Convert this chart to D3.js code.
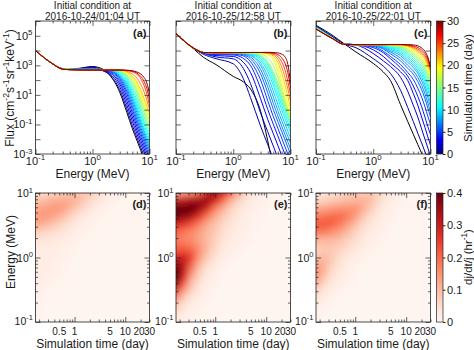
<!DOCTYPE html>
<html><head><meta charset="utf-8">
<script src="https://cdn.jsdelivr.net/npm/d3@7"></script>
<style>
body{margin:0;background:#fff}
svg{display:block}
text{font-family:"Liberation Sans",Arial,Helvetica,sans-serif;fill:#1a1a1a}
</style></head>
<body><svg id="chart" width="474" height="350"></svg>
<script>
// ---------------- DATA ----------------
const energies = [0.1,0.2,0.3,0.5,1,1.5,2,3,4,5,6,7,8,9,10];          // MeV
const simTimes = [0,1,2,3,4,5,6,7,8,9,10,11,12,13.5,15,16.5,18,19.5,21,23,25,27.5,30]; // day (0 = initial condition)
const titlesTop = ["2016-10-24/01:04 UT","2016-10-25/12:58 UT","2016-10-25/22:01 UT"];
const panelLetters = ["(a)","(b)","(c)","(d)","(e)","(f)"];

// log10 flux, one row per simulation time, one column per energy
const logFluxA = [
 [4.0,3.1,2.78,2.78,2.92,2.75,2.34,1.18,-0.18,-1.28,-2.07,-2.74,-3.32,-3.83,-4.29],
 [4.0,3.1,2.77,2.76,2.88,2.64,2.36,1.35,0.06,-1.06,-1.87,-2.54,-3.12,-3.63,-4.09],
 [4.0,3.1,2.77,2.75,2.85,2.66,2.44,1.56,0.33,-0.78,-1.62,-2.29,-2.87,-3.38,-3.84],
 [4.0,3.1,2.77,2.75,2.82,2.68,2.51,1.75,0.6,-0.5,-1.38,-2.05,-2.63,-3.14,-3.6],
 [4.0,3.1,2.76,2.74,2.8,2.7,2.57,1.9,0.85,-0.23,-1.14,-1.82,-2.4,-2.91,-3.37],
 [4.0,3.1,2.76,2.74,2.78,2.7,2.61,2.04,1.07,0.02,-0.9,-1.6,-2.18,-2.69,-3.15],
 [4.0,3.1,2.76,2.74,2.76,2.71,2.63,2.14,1.25,0.24,-0.67,-1.4,-1.98,-2.49,-2.95],
 [4.0,3.1,2.76,2.74,2.75,2.72,2.65,2.21,1.42,0.46,-0.43,-1.19,-1.78,-2.3,-2.75],
 [4.0,3.1,2.76,2.73,2.74,2.72,2.66,2.28,1.58,0.67,-0.2,-0.98,-1.59,-2.1,-2.56],
 [4.0,3.1,2.75,2.73,2.73,2.72,2.68,2.34,1.72,0.86,0.0,-0.78,-1.41,-1.92,-2.38],
 [4.0,3.1,2.75,2.73,2.73,2.72,2.69,2.4,1.86,1.05,0.2,-0.57,-1.23,-1.74,-2.2],
 [4.0,3.1,2.75,2.72,2.72,2.72,2.7,2.46,1.98,1.23,0.42,-0.34,-1.0,-1.54,-2.0],
 [4.0,3.1,2.75,2.72,2.72,2.72,2.7,2.52,2.1,1.41,0.64,-0.1,-0.78,-1.34,-1.8],
 [4.0,3.1,2.75,2.72,2.71,2.71,2.7,2.57,2.2,1.62,0.9,0.18,-0.48,-1.06,-1.54],
 [4.0,3.1,2.75,2.72,2.71,2.71,2.71,2.62,2.29,1.82,1.16,0.46,-0.18,-0.78,-1.28],
 [4.0,3.1,2.75,2.71,2.7,2.7,2.7,2.64,2.37,1.96,1.36,0.72,0.08,-0.48,-1.03],
 [4.0,3.1,2.75,2.71,2.7,2.7,2.7,2.66,2.44,2.1,1.56,0.97,0.33,-0.18,-0.78],
 [4.0,3.1,2.75,2.7,2.69,2.69,2.69,2.67,2.5,2.18,1.72,1.16,0.56,0.02,-0.54],
 [4.0,3.1,2.74,2.7,2.69,2.69,2.69,2.68,2.55,2.25,1.87,1.34,0.78,0.22,-0.3],
 [4.0,3.1,2.74,2.7,2.68,2.68,2.68,2.68,2.6,2.41,2.14,1.72,1.22,0.64,0.0],
 [4.0,3.1,2.74,2.69,2.68,2.68,2.68,2.68,2.65,2.56,2.4,2.1,1.65,1.05,0.3],
 [4.0,3.1,2.74,2.69,2.68,2.68,2.68,2.68,2.66,2.6,2.48,2.26,1.92,1.43,0.68],
 [4.0,3.1,2.74,2.69,2.68,2.68,2.68,2.68,2.67,2.63,2.55,2.42,2.18,1.8,1.05]
];
const logFluxB = [
 [5.15,4.14,3.55,3.05,2.25,1.88,1.4,-0.1,-2.1,-4.0,-5.5,-6.5,-7.5,-8.5,-9.5],
 [5.15,4.16,3.75,3.45,3.1,2.1,0.82,-1.11,-2.36,-3.33,-4.12,-4.79,-5.37,-5.88,-6.34],
 [5.15,4.17,3.82,3.57,3.44,2.79,1.77,-0.22,-1.49,-2.46,-3.25,-3.92,-4.5,-5.01,-5.47],
 [5.15,4.18,3.85,3.66,3.6,3.21,2.52,0.74,-0.65,-1.62,-2.41,-3.08,-3.66,-4.17,-4.63],
 [5.15,4.18,3.86,3.72,3.7,3.47,2.99,1.44,0.02,-0.98,-1.77,-2.44,-3.02,-3.53,-3.99],
 [5.15,4.18,3.87,3.76,3.75,3.64,3.25,2.01,0.61,-0.46,-1.25,-1.92,-2.5,-3.01,-3.47],
 [5.15,4.18,3.87,3.79,3.79,3.71,3.44,2.43,1.14,0.02,-0.79,-1.46,-2.04,-2.55,-3.01],
 [5.15,4.18,3.87,3.81,3.81,3.76,3.57,2.73,1.55,0.44,-0.42,-1.1,-1.68,-2.19,-2.65],
 [5.15,4.18,3.87,3.82,3.82,3.79,3.67,3.0,1.94,0.86,-0.05,-0.73,-1.31,-1.82,-2.28],
 [5.15,4.18,3.87,3.83,3.83,3.81,3.72,3.18,2.27,1.26,0.36,-0.37,-0.95,-1.46,-1.92],
 [5.15,4.18,3.87,3.84,3.84,3.83,3.77,3.36,2.6,1.66,0.77,0.0,-0.59,-1.1,-1.56],
 [5.15,4.18,3.87,3.85,3.85,3.85,3.8,3.46,2.81,1.94,1.07,0.3,-0.33,-0.84,-1.3],
 [5.15,4.18,3.87,3.85,3.86,3.86,3.83,3.55,3.01,2.21,1.36,0.59,-0.06,-0.58,-1.04],
 [5.15,4.18,3.87,3.85,3.86,3.86,3.84,3.61,3.14,2.4,1.59,0.84,0.17,-0.37,-0.83],
 [5.15,4.18,3.87,3.85,3.86,3.86,3.85,3.67,3.26,2.58,1.82,1.09,0.4,-0.16,-0.62],
 [5.15,4.18,3.87,3.85,3.86,3.86,3.85,3.77,3.5,3.0,2.2,1.35,0.55,-0.05,-0.53],
 [5.15,4.18,3.87,3.85,3.86,3.86,3.86,3.84,3.7,3.4,2.6,1.6,0.75,0.05,-0.42],
 [5.15,4.18,3.87,3.85,3.86,3.86,3.86,3.85,3.76,3.52,2.92,2.05,1.2,0.42,-0.15],
 [5.15,4.18,3.87,3.85,3.86,3.86,3.86,3.86,3.8,3.62,3.2,2.5,1.7,0.9,0.1],
 [5.15,4.18,3.87,3.85,3.86,3.86,3.87,3.87,3.83,3.71,3.42,2.9,2.2,1.4,0.55],
 [5.15,4.18,3.87,3.85,3.86,3.86,3.87,3.87,3.85,3.78,3.6,3.25,2.7,1.9,1.0],
 [5.15,4.18,3.87,3.85,3.86,3.87,3.87,3.87,3.87,3.83,3.73,3.52,3.15,2.5,1.45],
 [5.15,4.18,3.87,3.85,3.86,3.87,3.87,3.87,3.88,3.87,3.84,3.76,3.58,3.05,1.85]
];
const logFluxC = [
 [5.71,5.0,4.5,3.9,3.13,2.55,1.97,0.33,-0.8,-1.66,-2.36,-2.95,-3.45,-3.9,-4.3],
 [5.65,4.92,4.47,4.19,3.45,2.94,2.45,1.31,0.15,-0.8,-1.6,-2.25,-2.85,-3.4,-3.9],
 [5.64,4.9,4.46,4.38,3.8,3.3,2.92,2.19,1.25,0.3,-0.5,-1.3,-2.0,-2.6,-3.15],
 [5.63,4.88,4.45,4.4,4.05,3.6,3.16,2.56,1.98,1.1,0.3,-0.5,-1.2,-1.85,-2.4],
 [5.62,4.87,4.44,4.4,4.2,3.85,3.45,2.83,2.27,1.6,0.9,0.2,-0.5,-1.15,-1.7],
 [5.61,4.86,4.44,4.4,4.28,3.95,3.6,3.05,2.52,2.05,1.45,0.85,0.2,-0.45,-1.0],
 [5.6,4.85,4.44,4.4,4.32,4.1,3.78,3.3,2.8,2.4,1.9,1.35,0.75,0.1,-0.5],
 [5.59,4.84,4.43,4.4,4.34,4.16,3.9,3.48,3.0,2.62,2.18,1.65,1.08,0.45,-0.15],
 [5.58,4.84,4.43,4.4,4.36,4.22,4.0,3.65,3.2,2.85,2.45,1.95,1.4,0.8,0.2],
 [5.57,4.83,4.43,4.4,4.37,4.26,4.08,3.78,3.35,3.0,2.62,2.17,1.65,1.07,0.47],
 [5.56,4.83,4.43,4.4,4.38,4.3,4.15,3.9,3.5,3.15,2.8,2.4,1.9,1.35,0.75],
 [5.55,4.82,4.43,4.4,4.39,4.33,4.2,4.0,3.63,3.28,2.95,2.58,2.1,1.57,1.0],
 [5.54,4.82,4.43,4.4,4.4,4.35,4.25,4.1,3.75,3.4,3.1,2.75,2.3,1.8,1.25],
 [5.53,4.81,4.43,4.4,4.4,4.37,4.29,4.18,3.87,3.55,3.26,2.93,2.53,2.05,1.5],
 [5.52,4.81,4.43,4.4,4.4,4.38,4.33,4.25,3.98,3.7,3.42,3.1,2.75,2.3,1.75],
 [5.51,4.8,4.43,4.4,4.4,4.39,4.35,4.29,4.07,3.81,3.55,3.25,2.93,2.5,1.98],
 [5.5,4.8,4.43,4.4,4.4,4.4,4.37,4.33,4.15,3.92,3.68,3.4,3.1,2.7,2.2],
 [5.49,4.8,4.43,4.4,4.4,4.4,4.38,4.35,4.22,4.01,3.79,3.53,3.25,2.85,2.35],
 [5.48,4.8,4.43,4.4,4.4,4.4,4.39,4.37,4.28,4.1,3.9,3.65,3.4,3.0,2.5],
 [5.47,4.79,4.43,4.4,4.4,4.4,4.4,4.39,4.32,4.18,4.0,3.78,3.53,3.15,2.63],
 [5.47,4.79,4.43,4.4,4.4,4.4,4.4,4.4,4.35,4.25,4.1,3.9,3.65,3.3,2.75],
 [5.46,4.78,4.43,4.4,4.4,4.4,4.41,4.41,4.38,4.32,4.21,4.04,3.8,3.43,2.83],
 [5.45,4.78,4.43,4.4,4.4,4.4,4.41,4.41,4.4,4.38,4.32,4.18,3.95,3.55,2.9]
];

// dj/dt/j (hr^-1) grids: rows = heatEnergies (top to bottom), columns = heatTimes
const heatTimes = [0.18,0.25,0.35,0.5,0.7,1,1.4,2,2.8,4,5.6,8,11,16,23,30];
const heatEnergies = [10,7.5,5.6,4.2,3.2,2.4,1.8,1.3,1,0.75,0.56,0.42,0.32,0.24,0.18,0.13,0.1];
const rateD = [
 [0.05,0.05,0.06,0.07,0.08,0.09,0.09,0.08,0.06,0.03,0.015,0.01,0.005,0,0,0],
 [0.09,0.1,0.11,0.12,0.12,0.11,0.09,0.06,0.035,0.02,0.01,0.005,0,0,0,0],
 [0.12,0.13,0.14,0.14,0.12,0.09,0.06,0.035,0.02,0.01,0.005,0,0,0,0,0],
 [0.14,0.14,0.13,0.11,0.08,0.05,0.03,0.02,0.01,0.005,0,0,0,0,0,0],
 [0.12,0.11,0.09,0.07,0.05,0.03,0.02,0.01,0.005,0,0,0,0,0,0,0],
 [0.07,0.06,0.05,0.04,0.03,0.02,0.01,0.005,0,0,0,0,0,0,0,0],
 [0.035,0.035,0.03,0.025,0.02,0.01,0.005,0,0,0,0,0,0,0,0,0],
 [0.02,0.02,0.02,0.015,0.01,0.005,0,0,0,0,0,0,0,0,0,0],
 [0.02,0.02,0.02,0.015,0.01,0.005,0,0,0,0,0,0,0,0,0,0],
 [0.02,0.02,0.015,0.01,0.005,0,0,0,0,0,0,0,0,0,0,0],
 [0.02,0.02,0.015,0.01,0.005,0,0,0,0,0,0,0,0,0,0,0],
 [0.02,0.015,0.01,0.005,0,0,0,0,0,0,0,0,0,0,0,0],
 [0.015,0.01,0.005,0,0,0,0,0,0,0,0,0,0,0,0,0],
 [0.01,0.005,0,0,0,0,0,0,0,0,0,0,0,0,0,0],
 [0.01,0.005,0,0,0,0,0,0,0,0,0,0,0,0,0,0],
 [0.005,0,0,0,0,0,0,0,0,0,0,0,0,0,0,0],
 [0.005,0,0,0,0,0,0,0,0,0,0,0,0,0,0,0]
];
const rateE = [
 [0.12,0.14,0.16,0.2,0.28,0.33,0.32,0.22,0.12,0.06,0.03,0.015,0.01,0.005,0,0],
 [0.3,0.32,0.34,0.36,0.36,0.3,0.2,0.12,0.07,0.04,0.02,0.01,0.005,0,0,0],
 [0.4,0.4,0.4,0.36,0.28,0.18,0.12,0.07,0.04,0.025,0.015,0.01,0.005,0,0,0],
 [0.38,0.37,0.33,0.26,0.18,0.12,0.08,0.05,0.03,0.02,0.01,0.005,0,0,0,0],
 [0.28,0.26,0.22,0.17,0.12,0.09,0.06,0.04,0.025,0.015,0.01,0.005,0,0,0,0],
 [0.2,0.18,0.16,0.13,0.1,0.08,0.05,0.03,0.02,0.01,0.005,0,0,0,0,0],
 [0.18,0.17,0.16,0.13,0.1,0.07,0.04,0.025,0.015,0.01,0.005,0,0,0,0,0],
 [0.22,0.22,0.2,0.15,0.1,0.06,0.03,0.02,0.01,0.005,0,0,0,0,0,0],
 [0.28,0.3,0.24,0.14,0.08,0.04,0.02,0.01,0.005,0,0,0,0,0,0,0],
 [0.36,0.32,0.2,0.1,0.05,0.025,0.01,0.005,0,0,0,0,0,0,0,0],
 [0.4,0.3,0.15,0.07,0.03,0.015,0.008,0,0,0,0,0,0,0,0,0],
 [0.38,0.24,0.1,0.05,0.02,0.01,0.005,0,0,0,0,0,0,0,0,0],
 [0.28,0.15,0.07,0.03,0.015,0.008,0,0,0,0,0,0,0,0,0,0],
 [0.16,0.08,0.04,0.02,0.01,0.005,0,0,0,0,0,0,0,0,0,0],
 [0.08,0.04,0.02,0.01,0.005,0,0,0,0,0,0,0,0,0,0,0],
 [0.04,0.02,0.01,0.005,0,0,0,0,0,0,0,0,0,0,0,0],
 [0.02,0.01,0.005,0,0,0,0,0,0,0,0,0,0,0,0,0]
];
const rateF = [
 [0.03,0.035,0.04,0.05,0.06,0.07,0.08,0.08,0.07,0.04,0.02,0.01,0.005,0,0,0],
 [0.06,0.07,0.08,0.09,0.1,0.11,0.11,0.1,0.06,0.03,0.015,0.008,0,0,0,0],
 [0.12,0.13,0.14,0.15,0.15,0.15,0.12,0.08,0.04,0.02,0.01,0.005,0,0,0,0],
 [0.18,0.19,0.2,0.2,0.18,0.14,0.09,0.05,0.03,0.015,0.008,0,0,0,0,0],
 [0.22,0.22,0.21,0.18,0.14,0.1,0.06,0.035,0.02,0.01,0.005,0,0,0,0,0],
 [0.18,0.17,0.15,0.13,0.1,0.07,0.04,0.025,0.015,0.008,0,0,0,0,0,0],
 [0.1,0.1,0.1,0.09,0.07,0.05,0.03,0.02,0.01,0.005,0,0,0,0,0,0],
 [0.07,0.08,0.08,0.07,0.05,0.03,0.02,0.01,0.005,0,0,0,0,0,0,0],
 [0.09,0.1,0.08,0.05,0.03,0.02,0.01,0.005,0,0,0,0,0,0,0,0],
 [0.13,0.11,0.07,0.04,0.02,0.01,0.005,0,0,0,0,0,0,0,0,0],
 [0.15,0.1,0.05,0.03,0.015,0.008,0,0,0,0,0,0,0,0,0,0],
 [0.12,0.07,0.035,0.02,0.01,0.005,0,0,0,0,0,0,0,0,0,0],
 [0.07,0.04,0.02,0.01,0.005,0,0,0,0,0,0,0,0,0,0,0],
 [0.04,0.02,0.01,0.005,0,0,0,0,0,0,0,0,0,0,0,0],
 [0.02,0.01,0.005,0,0,0,0,0,0,0,0,0,0,0,0,0],
 [0.01,0.005,0,0,0,0,0,0,0,0,0,0,0,0,0,0],
 [0.005,0,0,0,0,0,0,0,0,0,0,0,0,0,0,0]
];
const timeTickLabels = [0.5,1,5,10,20,30];
const colorbarTicksTime = [0,5,10,15,20,25,30];
const colorbarTicksRate = [0,0.1,0.2,0.3,0.4];

// ---------------- LAYOUT ----------------
const svg = d3.select("#chart");
const defs = svg.append("defs");
const PX = [[35.5,149.5],[176,290.5],[316,430.5]];
const TOPY = [21,154], BOTY = [193,322];
const CBX = [436.5,443];

const jet = d3.scaleLinear().domain([0,3.3,10.5,19.5,26.7,30])
  .range(["#00007f","#0000ff","#00ffff","#ffff00","#ff0000","#7f0000"]);
const heat = d3.scaleSequential(d3.interpolateReds).domain([0,0.4]);

function rich(g, x, y, parts, size, anchor, rotate, weight){
  const t = g.append("text").attr("x",x).attr("y",y).attr("font-size",size)
    .attr("text-anchor",anchor||"middle");
  if(weight) t.attr("font-weight",weight);
  if(rotate) t.attr("transform",`rotate(${rotate},${x},${y})`);
  let up=false; const sh=size*0.4;
  parts.forEach(p=>{
    const sup = Array.isArray(p);
    const ts = t.append("tspan").text(sup?p[0]:p);
    if(sup){ ts.attr("font-size",size*0.72); if(!up){ts.attr("dy",-sh); up=true;} }
    else if(up){ ts.attr("dy",sh); up=false; }
  });
  return t;
}
const expo = v => { const e = Math.round(Math.log10(v)); return ["10",[String(e)]]; };

function frame(g, xs, ys, xMaj, xMin, yMaj, yMin){
  const [x0,x1]=xs.range(), [y0,y1]=ys.range(); // y0 bottom
  const mk=(axis,vals,len,tr)=>{
    const a=g.append("g").attr("transform",tr).call(axis.tickValues(vals).tickSize(-len).tickFormat(""));
    a.select(".domain").remove();
    a.selectAll("line").attr("stroke","#222").attr("stroke-width",0.7);
  };
  mk(d3.axisBottom(xs),xMaj,5,`translate(0,${y0})`);
  mk(d3.axisBottom(xs),xMin,2.5,`translate(0,${y0})`);
  mk(d3.axisTop(xs),xMaj,5,`translate(0,${y1})`);
  mk(d3.axisTop(xs),xMin,2.5,`translate(0,${y1})`);
  mk(d3.axisLeft(ys),yMaj,5,`translate(${x0},0)`);
  mk(d3.axisLeft(ys),yMin,2.5,`translate(${x0},0)`);
  mk(d3.axisRight(ys),yMaj,5,`translate(${x1},0)`);
  mk(d3.axisRight(ys),yMin,2.5,`translate(${x1},0)`);
  g.append("rect").attr("x",x0).attr("y",y1).attr("width",x1-x0).attr("height",y0-y1)
    .attr("fill","none").attr("stroke","#222").attr("stroke-width",0.8);
}
const minorLog=(lo,hi)=>{const r=[];for(let d=lo;d<hi;d++)for(let m=2;m<=9;m++)r.push(m*Math.pow(10,d));return r;};

// ---------------- TOP PANELS (flux spectra) ----------------
const fluxSets=[logFluxA,logFluxB,logFluxC];
fluxSets.forEach((set,pi)=>{
  const x = d3.scaleLog().domain([0.1,10]).range(PX[pi]);
  const y = d3.scaleLog().domain([1e-3,1e6]).range([TOPY[1],TOPY[0]]);
  const g = svg.append("g");
  const cid="clipT"+pi;
  defs.append("clipPath").attr("id",cid).append("rect")
    .attr("x",PX[pi][0]).attr("y",TOPY[0]).attr("width",PX[pi][1]-PX[pi][0]).attr("height",TOPY[1]-TOPY[0]);
  const line = d3.line().x((d,i)=>x(energies[i])).y(d=>y(Math.pow(10,d))).curve(d3.curveMonotoneX);
  const lg = g.append("g").attr("clip-path",`url(#${cid})`);
  const order = d3.range(set.length);
  lg.selectAll("path").data(order).join("path")
    .attr("d",i=>line(set[i])).attr("fill","none")
    .attr("stroke",i=>simTimes[i]===0?"#000":jet(simTimes[i]))
    .attr("stroke-width",1);
  frame(g,x,y,[0.1,1,10],minorLog(-1,1),d3.range(-3,7).map(e=>Math.pow(10,e)),[]);
  [0.1,1,10].forEach(v=>rich(g,x(v),164.5,expo(v),11,"middle"));
  if(pi===0){
    [1e-3,1e-1,1e1,1e3,1e5].forEach(v=>rich(g,PX[0][0]-3,y(v)+4,expo(v),11,"end"));
  }
  g.append("text").attr("x",(PX[pi][0]+PX[pi][1])/2).attr("y",178).attr("text-anchor","middle")
    .attr("font-size",12).text("Energy (MeV)");
  const cx=(PX[pi][0]+PX[pi][1])/2;
  g.append("text").attr("x",cx).attr("y",8.5).attr("text-anchor","middle").attr("font-size",10).text("Initial condition at");
  g.append("text").attr("x",cx).attr("y",19.8).attr("text-anchor","middle").attr("font-size",10).text(titlesTop[pi]);
  g.append("text").attr("x",PX[pi][1]-3).attr("y",TOPY[0]+16).attr("text-anchor","end")
    .attr("font-size",11).attr("font-weight","bold").text(panelLetters[pi]);
});
rich(svg,14,88,["Flux (cm",["-2"],"s",["-1"],"sr",["-1"],"keV",["-1"],")"],12,"middle",-90);

// ---------------- BOTTOM PANELS (dj/dt/j) ----------------
const rateSets=[rateD,rateE,rateF];
defs.append("filter").attr("id","soft").attr("x","-20%").attr("y","-20%").attr("width","140%").attr("height","140%")
  .append("feGaussianBlur").attr("stdDeviation",3.2);
const labelNudge = {20:-1.5};
rateSets.forEach((grid,pi)=>{
  const x = d3.scaleLog().domain([0.17,30]).range(PX[pi]);
  const y = d3.scaleLog().domain([0.1,10]).range([BOTY[1],BOTY[0]]);
  const g = svg.append("g");
  const cid="clipB"+pi;
  defs.append("clipPath").attr("id",cid).append("rect")
    .attr("x",PX[pi][0]).attr("y",BOTY[0]).attr("width",PX[pi][1]-PX[pi][0]).attr("height",BOTY[1]-BOTY[0]);
  const pad=14;
  const xb = d3.range(heatTimes.length+1).map(i=> i===0? x(x.domain()[0])-pad :
      i===heatTimes.length? x(x.domain()[1])+pad : x(Math.sqrt(heatTimes[i-1]*heatTimes[i])));
  const yb = d3.range(heatEnergies.length+1).map(i=> i===0? y(10)-pad :
      i===heatEnergies.length? y(0.1)+pad : y(Math.sqrt(heatEnergies[i-1]*heatEnergies[i])));
  const cells=[];
  grid.forEach((row,r)=>row.forEach((v,c)=>cells.push({r,c,v})));
  const hg = g.append("g").attr("clip-path",`url(#${cid})`).append("g").attr("filter","url(#soft)");
  hg.selectAll("rect").data(cells).join("rect")
    .attr("x",d=>xb[d.c]-0.5).attr("y",d=>yb[d.r]-0.5)
    .attr("width",d=>xb[d.c+1]-xb[d.c]+1).attr("height",d=>yb[d.r+1]-yb[d.r]+1)
    .attr("fill",d=>heat(d.v));
  frame(g,x,y,[1,10],[0.2,0.3,0.4,0.5,0.6,0.7,0.8,0.9,2,3,4,5,6,7,8,9,20,30],[0.1,1,10],minorLog(-1,1));
  timeTickLabels.forEach(v=>g.append("text").attr("x",x(v)+(labelNudge[v]||0)).attr("y",334.5).attr("text-anchor","middle")
    .attr("font-size",10).text(v));
  [0.1,1,10].forEach(v=>rich(g,PX[pi][0]-2.5,y(v)+(v===0.1?2.5:4),expo(v),10.5,"end"));
  g.append("text").attr("x",(PX[pi][0]+PX[pi][1])/2).attr("y",347.5).attr("text-anchor","middle")
    .attr("font-size",12).text("Simulation time (day)");
  g.append("text").attr("x",PX[pi][1]-3).attr("y",BOTY[0]+15).attr("text-anchor","end")
    .attr("font-size",11).attr("font-weight","bold").text(panelLetters[3+pi]);
});
svg.append("text").attr("x",15).attr("y",252).attr("text-anchor","middle").attr("font-size",12)
  .attr("transform","rotate(-90,15,252)").text("Energy (MeV)");

// ---------------- COLORBARS ----------------
function colorbar(yr, scale, ticks, fmt, gid, stops){
  const g = svg.append("g");
  const grad = defs.append("linearGradient").attr("id",gid).attr("x1",0).attr("y1",1).attr("x2",0).attr("y2",0);
  const dom = scale.domain();
  const lo=dom[0], hi=dom[dom.length-1];
  d3.range(stops+1).forEach(i=>{const v=lo+(hi-lo)*i/stops;
    grad.append("stop").attr("offset",i/stops).attr("stop-color",scale(v));});
  const ys = d3.scaleLinear().domain([lo,hi]).range([yr[1],yr[0]]);
  g.append("rect").attr("x",CBX[0]).attr("y",yr[0]).attr("width",CBX[1]-CBX[0]).attr("height",yr[1]-yr[0])
    .attr("fill",`url(#${gid})`).attr("stroke","#222").attr("stroke-width",0.7);
  const a = g.append("g").attr("transform",`translate(${CBX[1]},0)`)
    .call(d3.axisRight(ys).tickValues(ticks).tickSize(2.5).tickPadding(1.5).tickFormat(fmt));
  a.select(".domain").remove();
  a.selectAll("line").attr("stroke","#222");
  a.selectAll("text").attr("font-size",11).attr("font-family",'"Liberation Sans",Arial,sans-serif').attr("fill","#1a1a1a");
  return g;
}
colorbar(TOPY, jet, colorbarTicksTime, d3.format("d"), "gjet", 60);
colorbar(BOTY, heat, colorbarTicksRate, d=>d===0?"0":d3.format(".1f")(d), "gred", 40);
rich(svg,472,88,["Simulation time (day)"],11.5,"middle",-90);
rich(svg,472,257,["dj/dt/j (hr",["-1"],")"],11.5,"middle",-90);
</script></body></html>
